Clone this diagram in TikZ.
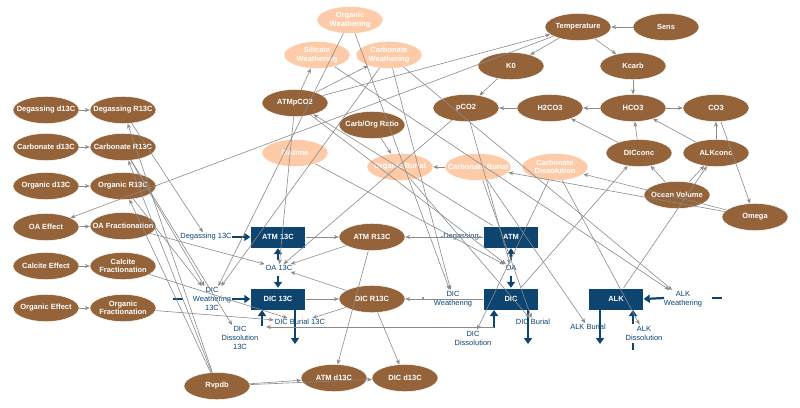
\documentclass[tikz,border=0pt]{standalone}
\usepackage{fontspec}
\setmainfont{Liberation Sans}
\usetikzlibrary{shapes.geometric,arrows.meta,calc}
\definecolor{brn}{HTML}{94633A}
\definecolor{lgt}{HTML}{FDCBA8}
\definecolor{stk}{HTML}{0E4470}
\definecolor{cgr}{HTML}{8A8A8A}
\begin{document}
\begin{tikzpicture}[x=1pt,y=-1pt,
 var/.style={ellipse, fill=brn, draw=white, line width=0.4pt, minimum width=66pt, minimum height=27pt, inner xsep=-9pt, inner ysep=-5pt, text=white, font=\fontsize{7.5}{8.5}\selectfont\bfseries, align=center},
 lvar/.style={var, fill=lgt},
 stock/.style={rectangle, fill=stk, draw=white, line width=0.4pt, minimum width=55pt, minimum height=22pt, inner sep=0pt, text=white, font=\fontsize{7.5}{8.5}\selectfont\bfseries},
 flab/.style={text=stk, font=\fontsize{7.5}{9}\selectfont, align=center, inner sep=1pt},
 conn/.style={draw=cgr, line width=0.6pt, -{Stealth[length=5pt,width=4pt]}},
 flow/.style={draw=stk, line width=2.2pt, -{Triangle[length=6pt,width=8pt]}},
 src/.style={draw=stk, line width=2pt}
]
\useasboundingbox (0,0) rectangle (800,407);
% ---- left column
\node[var] (DegD) at (46,110) {Degassing d13C};
\node[var] (DegR) at (123,110) {Degassing R13C};
\node[var] (CarbD) at (46,147) {Carbonate d13C};
\node[var] (CarbR) at (123,147) {Carbonate R13C};
\node[var] (OrgD) at (46,186) {Organic d13C};
\node[var] (OrgR) at (123,186) {Organic R13C};
\node[var] (OAE) at (46,227) {OA Effect};
\node[var] (OAF) at (123,226) {OA Fractionation};
\node[var] (CalE) at (46,266) {Calcite Effect};
\node[var] (CalF) at (123,266) {Calcite\\Fractionation};
\node[var] (OrgE) at (46,308) {Organic Effect};
\node[var] (OrgF) at (123,308) {Organic\\Fractionation};
% ---- upper middle
\node[lvar] (OrgW) at (350,20) {Organic\\Weathering};
\node[lvar] (SilW) at (317,55) {Silicate\\Weathering};
\node[lvar] (CarbW) at (389,55) {Carbonate\\Weathering};
\node[var] (ATMpCO2) at (295,103) {ATMpCO2};
\node[var] (CarbOrg) at (372,125) {Carb/Org Ratio};
\node[lvar] (OAtime) at (295,153) {OAtime};
\node[lvar] (OrgB) at (400,167) {Organic Burial};
\node[lvar] (CarbB) at (478,167) {Carbonate Burial};
\node[lvar] (CarbDis) at (555,167) {Carbonate\\Dissolution};
\node[var] (pCO2) at (466,108) {pCO2};
\node[var] (H2CO3) at (550,108) {H2CO3};
\node[var] (K0) at (511,66) {K0};
\node[var] (Temp) at (578,27) {Temperature};
\node[var] (Sens) at (666,27) {Sens};
\node[var] (Kcarb) at (633,66) {Kcarb};
\node[var] (HCO3) at (633,108) {HCO3};
\node[var] (CO3) at (716,108) {CO3};
\node[var] (DICc) at (639,153) {DICconc};
\node[var] (ALKc) at (716,153) {ALKconc};
\node[var] (OV) at (677,195) {Ocean Volume};
\node[var] (Omega) at (755,217) {Omega};
% ---- lower
\node[var] (ATMR) at (372,237) {ATM R13C};
\node[var] (DICR) at (372,299) {DIC R13C};
\node[var] (ATMd) at (334,378) {ATM d13C};
\node[var] (DICd) at (405,378) {DIC d13C};
\node[var] (Rvpdb) at (217,386) {Rvpdb};
% ---- stocks
\node[stock] (ATM13) at (278,237) {ATM 13C};
\node[stock] (DIC13) at (278,299) {DIC 13C};
\node[stock] (ATM) at (511,237) {ATM};
\node[stock] (DIC) at (511,299) {DIC};
\node[stock] (ALK) at (616,299) {ALK};
% ---- flow pipes
\coordinate (sDW13) at (173,299);
\coordinate (eDW13) at (183,299);
\draw[src] (sDW13) -- (eDW13);
\coordinate (pDeg13) at (232,237);
\draw[flow] (pDeg13) -- (ATM13.west);
\coordinate (pDW13) at (232,299);
\draw[flow] (pDW13) -- (DIC13.west);
\coordinate (pOA13u) at (278,260);
\coordinate (pOA13d) at (278,276);
\draw[flow] (pOA13u) -- (ATM13.south);
\draw[flow] (pOA13d) -- (DIC13.north);
\coordinate (tDB13) at (295,310);
\coordinate (bDB13) at (295,344);
\draw[flow] (tDB13) -- (bDB13);
\coordinate (bDD13) at (262,326);
\coordinate (tDD13) at (262,310);
\draw[flow] (bDD13) -- (tDD13);
\coordinate (pOAu) at (511,260);
\coordinate (pOAd) at (511,276);
\draw[flow] (pOAu) -- (ATM.south);
\draw[flow] (pOAd) -- (DIC.north);
\coordinate (tDB) at (528,310);
\coordinate (bDB) at (528,344);
\draw[flow] (tDB) -- (bDB);
\coordinate (bDD) at (494,328);
\coordinate (tDD) at (494,310);
\draw[flow] (bDD) -- (tDD);
\coordinate (sAW) at (712,298);
\coordinate (eAW) at (722,298);
\draw[src] (sAW) -- (eAW);
\coordinate (pAW) at (664,298);
\draw[flow] (pAW) -- (ALK.east);
\coordinate (tAB) at (600,310);
\coordinate (bAB) at (600,344);
\draw[flow] (tAB) -- (bAB);
\coordinate (bAD) at (633,324);
\coordinate (tAD) at (633,310);
\draw[flow] (bAD) -- (tAD);
\coordinate (sAD1) at (633,343);
\coordinate (sAD2) at (633,350);
\draw[src] (sAD1) -- (sAD2);
% ---- flow labels
\node[flab] (lDeg13) at (206,237) {Degassing 13C};
\node[flab] (lOA13) at (279,268) {OA 13C};
\node[flab] (lDW13) at (212,299) {DIC\\Weathering\\13C};
\node[flab] (lDB13) at (300,322) {DIC Burial 13C};
\node[flab] (lDD13) at (240,338) {DIC\\Dissolution\\13C};
\node[flab] (lDeg) at (461,237) {Degassing};
\node[flab] (lOA) at (511,268) {OA};
\node[flab] (lDW) at (453,299) {DIC\\Weathering};
\node[flab] (lDB) at (533,322) {DIC Burial};
\node[flab] (lDD) at (473,338) {DIC\\Dissolution};
\node[flab] (lAW) at (683,299) {ALK\\Weathering};
\node[flab] (lAB) at (588,327) {ALK Burial};
\node[flab] (lAD) at (644,333) {ALK\\Dissolution};
\fill[stk] (lDeg.west) circle (0.9pt);
\fill[stk] (lDeg.east) circle (0.9pt);
\coordinate (dDW) at (423,298);
\fill[stk] (dDW) circle (0.9pt);
% ---- connectors: left column
\draw[conn] (DegD) -- (DegR);
\draw[conn] (CarbD) -- (CarbR);
\draw[conn] (OrgD) -- (OrgR);
\draw[conn] (OAE) -- (OAF);
\draw[conn] (CalE) -- (CalF);
\draw[conn] (OrgE) -- (OrgF);
\draw[conn] (Rvpdb) -- (DegR);
\draw[conn] (Rvpdb) -- (CarbR);
\draw[conn] (Rvpdb) -- (OrgR);
\draw[conn] (Rvpdb) -- (ATMd);
\draw[conn] (Rvpdb) -- (DICd);
\draw[conn] (DegR) -- (lDeg13);
\draw[conn] (CarbR) -- (lDW13);
\draw[conn] (OrgR) -- (lDW13);
\draw[conn] (CarbR) -- (lDD13);
\draw[conn] (OAF) -- (lOA13);
\draw[conn] (CalF) -- (lDB13);
\draw[conn] (OrgF) -- (lDB13);
% ---- connectors: 13C block
\draw[conn] (ATM13) -- (ATMR);
\draw[conn] (DIC13) -- (DICR);
\draw[conn] (ATM) -- (ATMR);
\draw[conn] (DIC) -- (DICR);
\draw[conn] (ATMR) -- (ATMd);
\draw[conn] (DICR) -- (DICd);
\draw[conn] (ATMR) -- (lOA13);
\draw[conn] (DICR) -- (lOA13);
\draw[conn] (DICR) -- (lDB13);
\draw[conn] (ATMpCO2) -- (lOA13);
\draw[conn] (pCO2) -- (lOA13);
\coordinate (cDD) at (494,327);
\coordinate (cDD13) at (266,327);
\draw[conn] (cDD) -- (cDD13);
% ---- connectors: chemistry
\draw[conn] (Sens) -- (Temp);
\draw[conn] (Temp) -- (K0);
\draw[conn] (Temp) -- (Kcarb);
\draw[conn] (Kcarb) -- (HCO3);
\draw[conn] (K0) -- (pCO2);
\draw[conn] (H2CO3) -- (pCO2);
\draw[conn] (HCO3) -- (H2CO3);
\draw[conn] (HCO3) -- (CO3);
\draw[conn] (DICc) -- (HCO3);
\draw[conn] (ALKc) -- (HCO3);
\draw[conn] (ALKc) -- (CO3);
\draw[conn] (DICc) -- (H2CO3);
\draw[conn] (CO3) -- (Omega);
\draw[conn] (OV) -- (DICc);
\draw[conn] (OV) -- (ALKc);
\draw[conn] (Omega) -- (CarbDis);
\draw[conn] (Omega) -- (CarbB);
\draw[conn] (CarbB) -- (OrgB);
\draw[conn] (CarbOrg) -- (OrgB);
\draw[conn] (ATMpCO2) -- (SilW);
\draw[conn] (ATMpCO2) -- (CarbW);
\draw[conn] (ATMpCO2) -- (Temp);
\draw[conn] (Temp) -- (OAE);
\draw[conn] (ATM) -- (ATMpCO2);
\draw[conn] (DIC) -- (DICc);
\draw[conn] (ALK) -- (ALKc);
% ---- connectors: flows
\draw[conn] (SilW) -- (lAW);
\draw[conn] (CarbW) -- (lAW);
\draw[conn] (CarbB) -- (lAB);
\draw[conn] (CarbDis) -- (lAD);
\draw[conn] (CarbDis) -- (lDD);
\draw[conn] (CarbB) -- (lDB);
\draw[conn] (OrgB) -- (lDB);
\draw[conn] (OrgW) -- (lDW);
\draw[conn] (CarbW) -- (lDW);
\draw[conn] (OrgW) -- (lDW13);
\draw[conn] (CarbW) -- (lDW13);
\draw[conn] (OAtime) -- (lOA);
\draw[conn] (pCO2) -- (lOA);
\draw[conn] (ATMpCO2) -- (lOA);
\end{tikzpicture}
\end{document}
